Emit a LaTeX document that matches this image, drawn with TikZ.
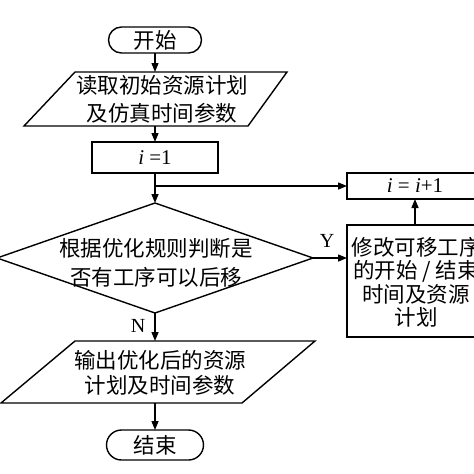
\documentclass[tikz,border=0pt]{standalone}
\usepackage{fontspec}
\setmainfont{Liberation Serif}
\newfontfamily\cjk{Noto Sans CJK SC}
\usetikzlibrary{shapes.geometric,arrows.meta}
\begin{document}
\begin{tikzpicture}[x=1pt,y=-1pt,
  line width=1.4pt,
  every node/.style={inner sep=0pt, outer sep=0pt},
  term/.style={draw, rectangle, font=\cjk\fontsize{21.5}{24}\selectfont},
  box/.style={draw, rectangle, font=\fontsize{21}{24}\selectfont},
  iobody/.style={rectangle},
  dec/.style={draw, diamond},
  txt/.style={align=center, font=\cjk\fontsize{21.5}{28}\selectfont},
  arr/.style={-{Triangle[length=9pt,width=7pt]}},
  lbl/.style={font=\fontsize{20}{20}\selectfont}
]
\useasboundingbox (0,0) rectangle (474,474);
\clip (0,0) rectangle (474,474);
\fill[white] (0,0) rectangle (474,474);

\node[term, minimum width=93pt, minimum height=26pt, rounded corners=13pt] (start) at (155,40) {开始};
% input parallelogram
\node[iobody, minimum width=200pt, minimum height=54pt] (p1) at (155.5,99) {};
\draw (24,126) -- (75,72) -- (287,72) -- (248,126) -- cycle;
\node[txt] (tp1) at (162,99) {读取初始资源计划\\及仿真时间参数};
\node[box, minimum width=126pt, minimum height=31pt] (b1) at (155,157.5) {\textit{i} =1};
\node[dec, minimum width=316pt, minimum height=110pt] (d) at (155,258) {};
\node[txt, font=\cjk\fontsize{21.5}{29}\selectfont] (td) at (156,262.5) {根据优化规则判断是\\否有工序可以后移};
% output parallelogram
\node[iobody, minimum width=240pt, minimum height=62pt] (p2) at (158,372) {};
\draw (1,403) -- (75,341) -- (315,341) -- (242,403) -- cycle;
\node[txt, font=\cjk\fontsize{21.5}{25}\selectfont] (tp2) at (160,372.5) {输出优化后的资源\\计划及时间参数};
\node[term, minimum width=97pt, minimum height=30pt, rounded corners=15pt] (stop) at (155,445) {结束};
\node[box, minimum width=136pt, minimum height=26pt] (i2) at (415,186) {\textit{i} = \textit{i}+1};
\node[box, minimum width=136pt, minimum height=112pt] (rb) at (415,281) {};
\node[txt, font=\cjk\fontsize{21.5}{23.5}\selectfont] (trb) at (416,282.5) {修改可移工序\\的开始 / 结束\\时间及资源\\计划};
\node[lbl] (Y) at (327,241) {Y};
\node[lbl] (N) at (138,326) {N};

\coordinate (br) at (155,186);
\draw[arr] (start.south) -- (start.south |- p1.north);
\draw[arr] (b1.north |- p1.south) -- (b1.north);
\draw[arr] (b1.south) -- (d.north);
\draw[arr] (br) -- (i2.west);
\draw[arr] (d.east) -- (rb.west |- d.east);
\draw[arr] (d.south) -- (d.south |- p2.north);
\draw[arr] (stop.north |- p2.south) -- (stop.north);
\draw[arr] (rb.north) -- (i2.south);
\end{tikzpicture}
\end{document}
